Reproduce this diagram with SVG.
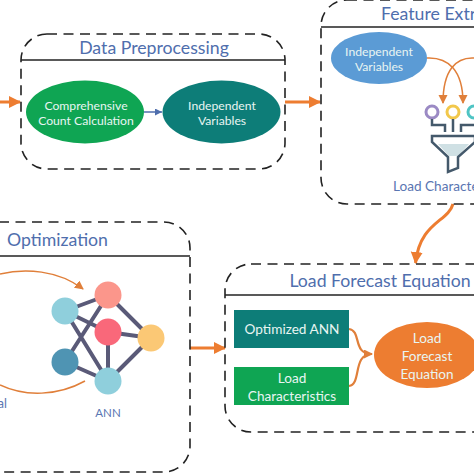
<svg xmlns="http://www.w3.org/2000/svg" width="474" height="474" viewBox="0 0 474 474">
<style>
text{font-family:Lato,"Liberation Sans",sans-serif;text-anchor:middle}
.t{font-size:17.7px;fill:#4f6ead}
.w{font-size:12.2px;fill:#e8f5f2}
.w2{font-size:13.6px;fill:#e8f5f2}
.b{font-size:11.5px;fill:#5a76b2}
.box{fill:none;stroke:#222;stroke-width:1.6;stroke-dasharray:10 6.5}
.rule{stroke:#222;stroke-width:1.5;fill:none}
.o{stroke:#ed7d31;fill:none;stroke-width:3}
.ot{stroke:#e07f3a;fill:none;stroke-width:1.5}
.om{stroke:#e07f3a;fill:none;stroke-width:2.2}
.e{stroke:#5a5a78;stroke-width:4}
.w3{stroke:#44596b;stroke-width:2.5;fill:none}
</style>
<defs>
<marker id="ah" markerUnits="userSpaceOnUse" markerWidth="13" markerHeight="13" refX="11" refY="6" orient="auto"><path d="M0 0L12 6L0 12Z" fill="#ed7d31"/></marker>
<marker id="as" markerUnits="userSpaceOnUse" markerWidth="10" markerHeight="10" refX="8" refY="4.5" orient="auto"><path d="M0 0L9 4.5L0 9Z" fill="#e07f3a"/></marker>
<marker id="ab" markerUnits="userSpaceOnUse" markerWidth="9" markerHeight="9" refX="7" refY="3.5" orient="auto"><path d="M0 0L7 3.5L0 7Z" fill="#4f6ead"/></marker>
</defs>
<g id="connectors">
<path class="o" d="M0 102H20" marker-end="url(#ah)"/>
<path class="o" d="M285 102H320" marker-end="url(#ah)"/>
<path class="o" d="M453 204C448 222 420 222 415.500 263" marker-end="url(#ah)"/>
<path class="o" d="M190 348H225" marker-end="url(#ah)"/>
<path d="M144 112H162" stroke="#4f6ead" stroke-width="1.5" fill="none" marker-end="url(#ab)"/>
<path class="ot" d="M427 58C448 57 463 70 463 103" marker-end="url(#as)"/>
<path class="ot" d="M474 58C456 57 443 70 443 103" marker-end="url(#as)"/>
<path class="ot" d="M0 274C25 268 58 270 83 289" marker-end="url(#as)"/>
<path class="ot" d="M0 385C25 397 58 396 85 381"/>
<path class="om" d="M349 329C362 331 352 354 372 354" marker-end="url(#as)"/>
<path class="om" d="M349 386C362 384 352 354 372 354"/>
</g>
<g id="data-preprocessing">
<rect class="box" x="21" y="34" width="264" height="135" rx="26"/>
<path class="rule" d="M21 60H285"/>
<text class="t" x="154" y="54">Data Preprocessing</text>
</g>
<g id="comprehensive-count"><ellipse cx="85" cy="112" rx="59" ry="31.500" fill="#0fa553"/><text class="w" x="86" y="109.500">Comprehensive</text><text class="w" x="86" y="125">Count Calculation</text></g>
<g id="independent-variables-1"><ellipse cx="221.500" cy="112" rx="59" ry="31.500" fill="#0d7d78"/><text class="w" x="222" y="109.500">Independent</text><text class="w" x="222" y="125">Variables</text></g>
<g id="feature-extraction">
<rect class="box" x="321" y="0" width="200" height="204" rx="26"/>
<path class="rule" d="M321 27H474"/>
<text class="t" x="381" y="20" style="text-anchor:start">Feature Extraction</text>
</g>
<g id="independent-variables-2"><ellipse cx="379" cy="58" rx="48" ry="26" fill="#5b9bd5"/><text class="w" x="379" y="55.500">Independent</text><text class="w" x="379" y="71">Variables</text></g>
<g id="funnel">
<circle cx="432" cy="112" r="6" fill="#fff" stroke="#9b8ac4" stroke-width="3"/>
<circle cx="453" cy="112" r="6" fill="#fff" stroke="#f2c84b" stroke-width="3"/>
<circle cx="474" cy="112" r="6" fill="#fff" stroke="#4fc4c4" stroke-width="3"/>
<path class="w3" d="M432 119V125H445V132M453 119V132M474 125H461V132"/>
<path d="M438 144H469L458 156H449Z" fill="#cfe0e4"/>
<path class="w3" d="M432 136H475V142L458 157V168L448 172V157L432 142Z"/>
<text class="b" x="393" y="191" style="text-anchor:start;font-size:13.6px">Load Characteristics</text>
</g>
<g id="optimization">
<rect class="box" x="-60" y="222" width="250" height="250" rx="26"/>
<path class="rule" d="M0 256H190"/>
<text class="t" x="7" y="246" style="text-anchor:start">Optimization</text>
</g>
<g id="ann">
<path class="e" d="M65 311L108 295M65 311L108 332M65 311L108 381M65 362L108 295M65 362L108 381M108 295L151 338M108 332L151 338M108 332V381M151 338L108 381"/>
<circle cx="65" cy="311" r="13.500" fill="#8fcfdc"/>
<circle cx="108" cy="295" r="13.500" fill="#fb968b"/>
<circle cx="108" cy="332" r="13.500" fill="#f9687a"/>
<circle cx="65" cy="362" r="13.500" fill="#4f94b3"/>
<circle cx="108" cy="381" r="13.500" fill="#8fcfdc"/>
<circle cx="151" cy="338" r="13.500" fill="#fbc875"/>
<text class="b" x="108" y="417">ANN</text>
<text class="b" x="7" y="408" style="text-anchor:end;font-size:12.5px">al</text>
</g>
<g id="load-forecast">
<rect class="box" x="225" y="264" width="300" height="168" rx="26"/>
<path class="rule" d="M225 295H474"/>
<text class="t" x="380" y="287">Load Forecast Equation</text>
</g>
<g id="optimized-ann"><rect x="234" y="310" width="115" height="38" fill="#0d7d78"/><text class="w2" x="292" y="334">Optimized ANN</text></g>
<g id="load-characteristics"><rect x="234" y="367" width="115" height="38" fill="#0fa553"/><text class="w2" x="292" y="383">Load</text><text class="w2" x="292" y="401">Characteristics</text></g>
<g id="load-forecast-equation"><ellipse cx="427" cy="355" rx="53" ry="33" fill="#ed7d31"/><text class="w2" x="427" y="343">Load</text><text class="w2" x="427" y="361">Forecast</text><text class="w2" x="427" y="379">Equation</text></g>
</svg>
